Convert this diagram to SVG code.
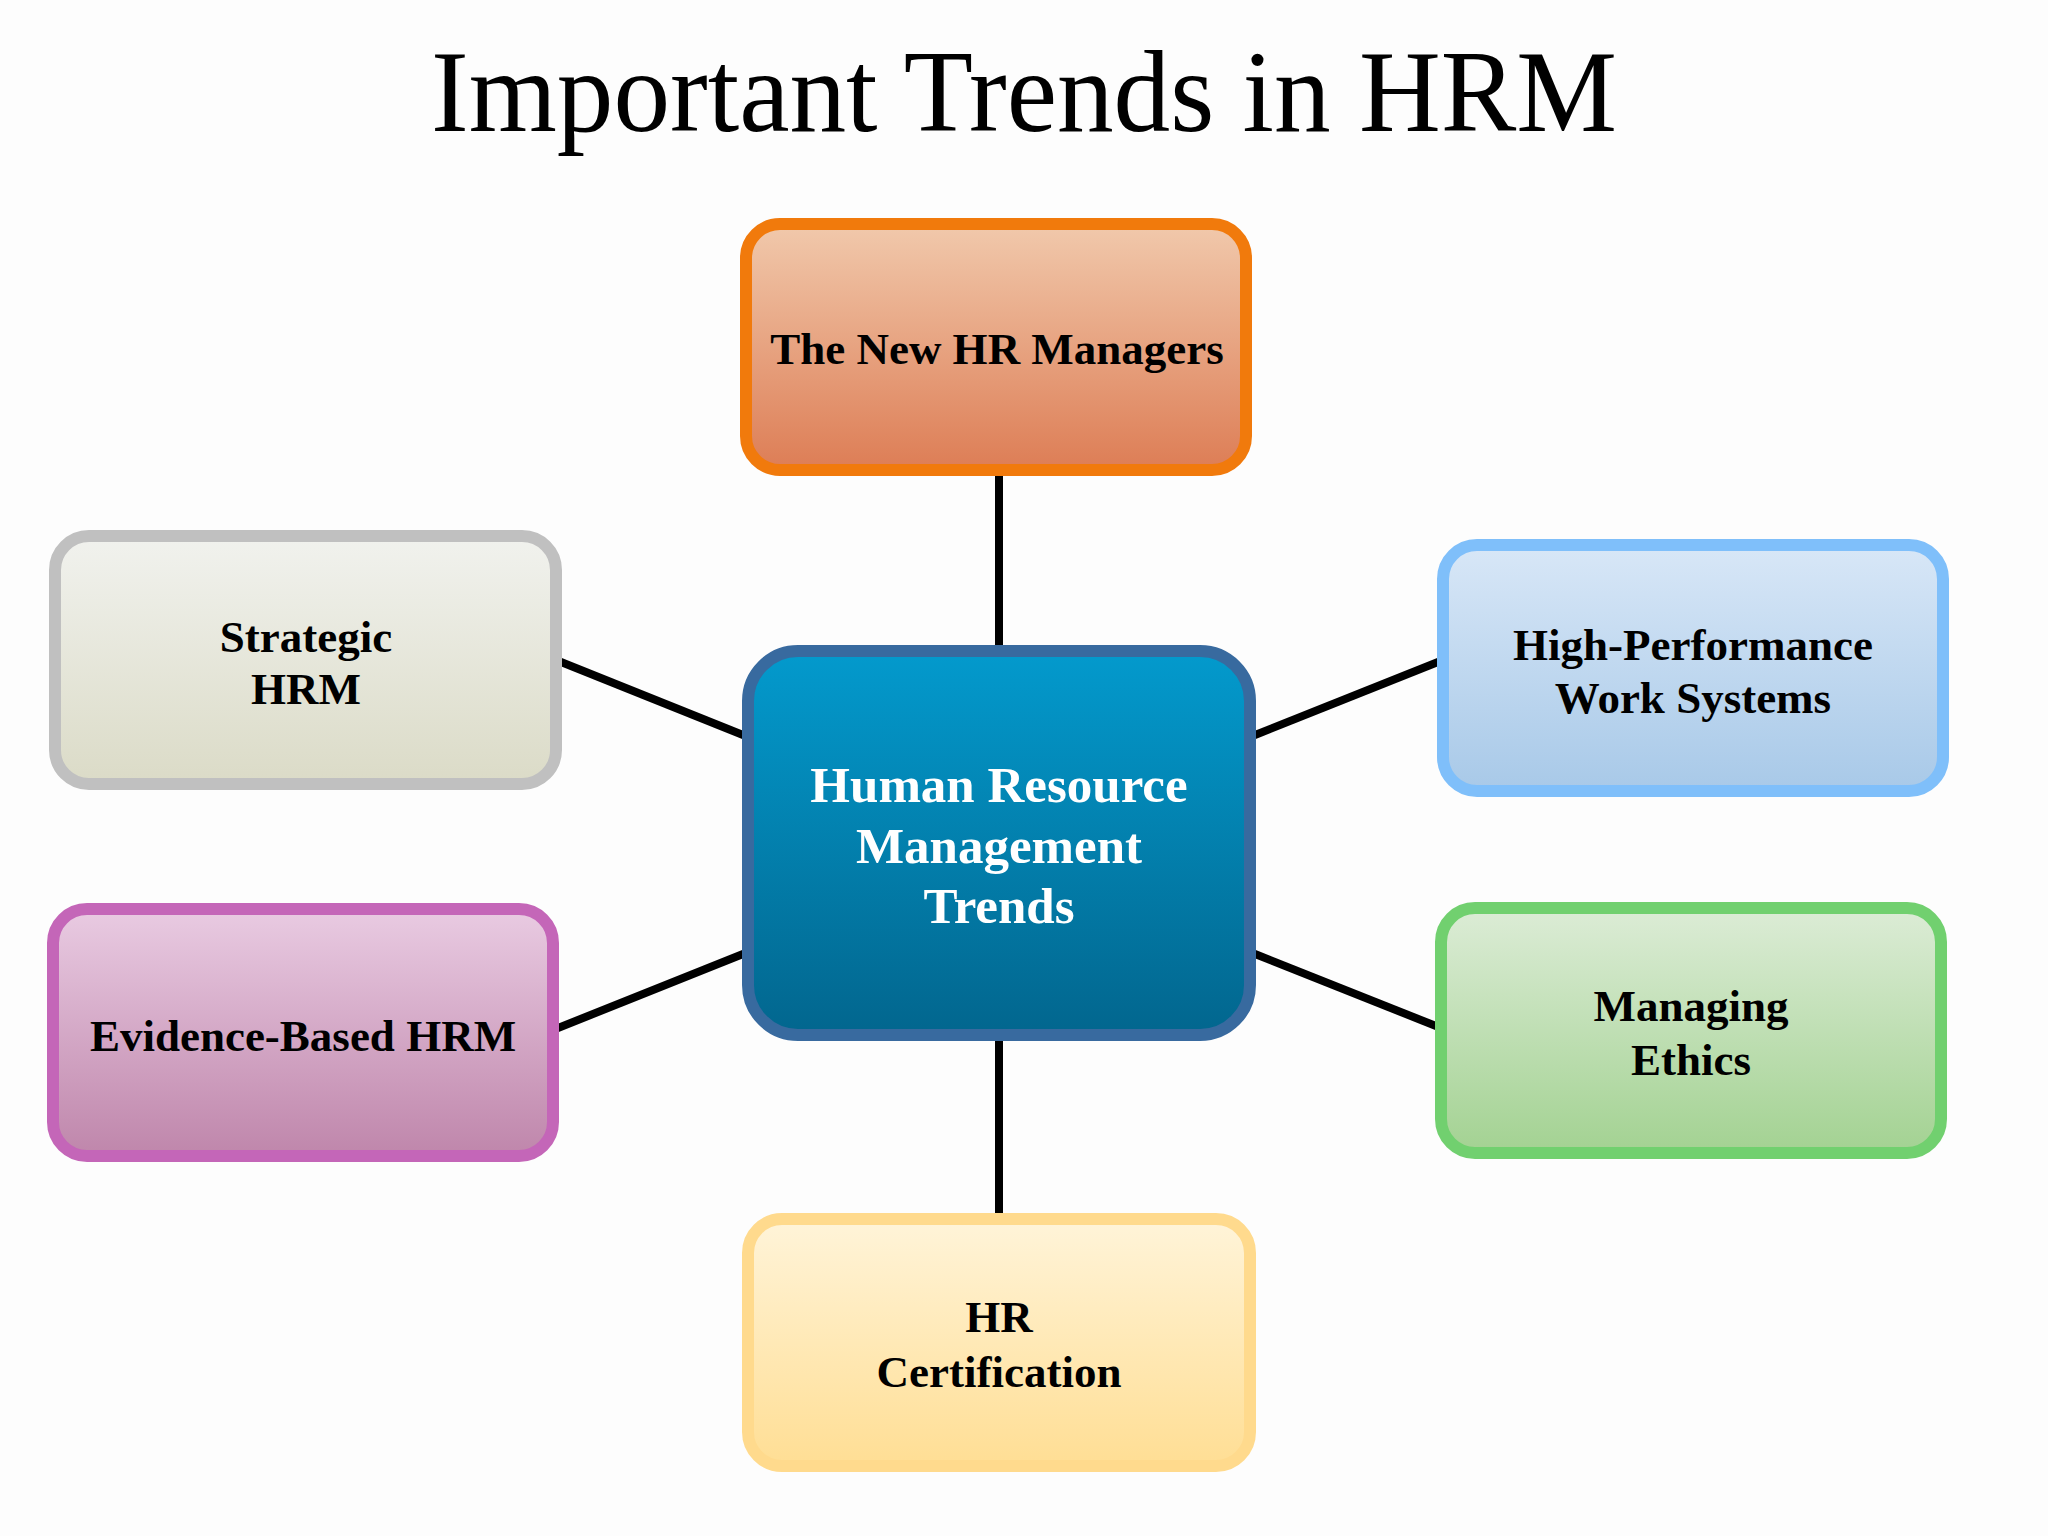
<svg xmlns="http://www.w3.org/2000/svg" width="2048" height="1536" viewBox="0 0 2048 1536">
  <defs>
    <linearGradient id="gTop" x1="0" y1="0" x2="0" y2="1"><stop offset="0" stop-color="#F1C9AC"/><stop offset="1" stop-color="#DD7D55"/></linearGradient>
    <linearGradient id="gCenter" x1="0" y1="0" x2="0" y2="1"><stop offset="0" stop-color="#039ACD"/><stop offset="1" stop-color="#02668E"/></linearGradient>
    <linearGradient id="gStrat" x1="0" y1="0" x2="0" y2="1"><stop offset="0" stop-color="#F1F2EE"/><stop offset="1" stop-color="#DBDBC7"/></linearGradient>
    <linearGradient id="gHP" x1="0" y1="0" x2="0" y2="1"><stop offset="0" stop-color="#D8E7F7"/><stop offset="1" stop-color="#A8C9E8"/></linearGradient>
    <linearGradient id="gME" x1="0" y1="0" x2="0" y2="1"><stop offset="0" stop-color="#DCECD6"/><stop offset="1" stop-color="#A3D292"/></linearGradient>
    <linearGradient id="gEv" x1="0" y1="0" x2="0" y2="1"><stop offset="0" stop-color="#E9CBE2"/><stop offset="1" stop-color="#BF86AB"/></linearGradient>
    <linearGradient id="gHR" x1="0" y1="0" x2="0" y2="1"><stop offset="0" stop-color="#FFF4D9"/><stop offset="1" stop-color="#FFDE94"/></linearGradient>
  </defs>
  <style>
    .box { stroke-width: 12; }
    .lbl { font-family: "Liberation Serif", "Times New Roman", serif; font-weight: bold; font-size: 45px; fill: #000; text-anchor: middle; }
    .clbl { font-family: "Liberation Serif", "Times New Roman", serif; font-weight: bold; font-size: 51px; fill: #fff; text-anchor: middle; }
    .conn { stroke: #000; stroke-width: 8; fill: none; }
  </style>
  <rect x="0" y="0" width="2048" height="1536" fill="#fdfdfd"/>
  <text x="1024" y="131" font-family="Liberation Serif, Times New Roman, serif" font-size="116" text-anchor="middle" fill="#000" textLength="1186" lengthAdjust="spacingAndGlyphs">Important Trends in HRM</text>

  <g id="connectors">
    <line class="conn" x1="999" y1="470" x2="999" y2="651"/>
    <line class="conn" x1="999" y1="1035" x2="999" y2="1219"/>
    <line class="conn" x1="556" y1="660" x2="748" y2="737"/>
    <line class="conn" x1="553" y1="1030" x2="748" y2="952"/>
    <line class="conn" x1="1250" y1="737" x2="1443" y2="660"/>
    <line class="conn" x1="1250" y1="952" x2="1441" y2="1028"/>
  </g>

  <g id="node-center">
    <rect class="box" x="748" y="651" width="502" height="384" rx="50" fill="url(#gCenter)" stroke="#386A9F"/>
    <text class="clbl" x="999" y="802">Human Resource</text>
    <text class="clbl" x="999" y="863">Management</text>
    <text class="clbl" x="999" y="923">Trends</text>
  </g>
  <g id="node-new-hr-managers">
    <rect class="box" x="746" y="224" width="500" height="246" rx="34" fill="url(#gTop)" stroke="#F17A0C"/>
    <text class="lbl" x="997" y="364">The New HR Managers</text>
  </g>
  <g id="node-strategic-hrm">
    <rect class="box" x="55" y="536" width="501" height="248" rx="34" fill="url(#gStrat)" stroke="#C0C0C0"/>
    <text class="lbl" x="306" y="652">Strategic</text>
    <text class="lbl" x="306" y="704">HRM</text>
  </g>
  <g id="node-evidence-based-hrm">
    <rect class="box" x="53" y="909" width="500" height="247" rx="34" fill="url(#gEv)" stroke="#C466B8"/>
    <text class="lbl" x="303" y="1051">Evidence-Based HRM</text>
  </g>
  <g id="node-high-performance">
    <rect class="box" x="1443" y="545" width="500" height="246" rx="34" fill="url(#gHP)" stroke="#7FBFFA"/>
    <text class="lbl" x="1693" y="660">High-Performance</text>
    <text class="lbl" x="1693" y="713">Work Systems</text>
  </g>
  <g id="node-managing-ethics">
    <rect class="box" x="1441" y="908" width="500" height="245" rx="34" fill="url(#gME)" stroke="#71D06F"/>
    <text class="lbl" x="1691" y="1021">Managing</text>
    <text class="lbl" x="1691" y="1075">Ethics</text>
  </g>
  <g id="node-hr-certification">
    <rect class="box" x="748" y="1219" width="502" height="247" rx="34" fill="url(#gHR)" stroke="#FFDA8D"/>
    <text class="lbl" x="999" y="1332">HR</text>
    <text class="lbl" x="999" y="1387">Certification</text>
  </g>
</svg>
